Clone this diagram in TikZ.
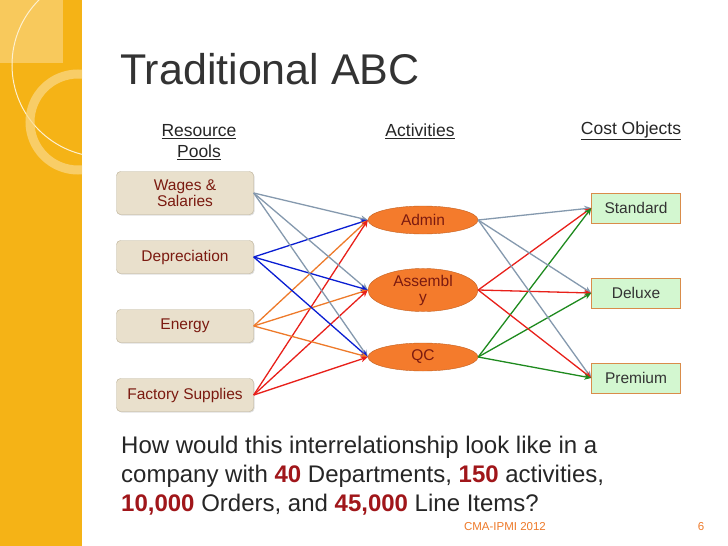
\documentclass[tikz,border=0pt]{standalone}
\usepackage{fontspec}
\setmainfont{Liberation Sans}
\usetikzlibrary{shapes.geometric,arrows.meta,shadows}
\definecolor{barc}{HTML}{F5B316}
\definecolor{boxc}{HTML}{E9E0CC}
\definecolor{boxd}{HTML}{BBB096}
\definecolor{txtr}{HTML}{7B1A10}
\definecolor{ell}{HTML}{F47B2C}
\definecolor{grn}{HTML}{D3F7D0}
\definecolor{grnd}{HTML}{D98C4A}
\definecolor{ga}{HTML}{8599AE}
\definecolor{bl}{HTML}{0A1ED2}
\definecolor{orc}{HTML}{EE7A2A}
\definecolor{rd}{HTML}{E8201A}
\definecolor{gn}{HTML}{1E8A1E}
\definecolor{numc}{HTML}{A0161A}
\begin{document}
\begin{tikzpicture}[x=1pt,y=-1pt,
 res/.style={draw=boxd,fill=boxc,rounded corners=4pt,minimum width=137pt,text=txtr,font=\fontsize{15.5}{16}\selectfont,align=center,inner sep=1pt,drop shadow={opacity=0.25,shadow xshift=1pt,shadow yshift=-1pt}},
 act/.style={ellipse,fill=ell,draw=ell!80!black,minimum width=110pt,text=txtr,font=\fontsize{15.5}{16}\selectfont,align=center,inner sep=0pt},
 cost/.style={draw=grnd,fill=grn,minimum width=89pt,minimum height=30pt,text=black!80,font=\fontsize{15.5}{16}\selectfont},
 hdr/.style={font=\fontsize{17.5}{21}\selectfont,align=center,text=black!85},
 ar/.style={-{Stealth[length=7pt,width=6pt]},line width=1.3pt}]
\useasboundingbox (0,0) rectangle (728,546);
\fill[white] (0,0) rectangle (728,546);
\fill[barc] (0,0) rectangle (82,546);
\begin{scope}
\clip (0,0) rectangle (82,546);
\fill[white,opacity=0.3] (0,0) rectangle (63,63);
\draw[white!80!barc,line width=1pt] (104,65) circle (92);
\draw[barc!50!white,opacity=0.7,line width=9pt] (78,122) circle (48);
\end{scope}
\node[anchor=base west,font=\fontsize{43}{46}\selectfont,text=black!80,inner sep=0] (title) at (120,84) {Traditional ABC};
\node[hdr] (h1) at (199,142) {\underline{Resource}\\\underline{Pools}};
\node[hdr] (h2) at (420,131) {\underline{Activities}};
\node[hdr] (h3) at (631,131) {\underline{Cost Objects}};
\node[res,minimum height=43pt] (w) at (185,193) {Wages \&\\Salaries};
\node[res,minimum height=33pt] (d) at (185,257) {Depreciation};
\node[res,minimum height=33pt] (e) at (185,326) {Energy};
\node[res,minimum height=33pt] (f) at (185,395) {Factory Supplies};
\node[act,minimum height=28pt] (a) at (423,220) {Admin};
\node[act,minimum height=40pt] (b) at (423,290) {Assembl\\y};
\node[act,minimum height=28pt] (q) at (423,357) {QC};
\node[cost] (s) at (636,208) {Standard};
\node[cost] (x) at (636,293) {Deluxe};
\node[cost] (p) at (636,378) {Premium};
\foreach \t in {a,b,q}{
 \draw[ar,ga] (w.east) -- (\t.west);
 \draw[ar,bl] (d.east) -- (\t.west);
 \draw[ar,orc] (e.east) -- (\t.west);
 \draw[ar,rd] (f.east) -- (\t.west);}
\foreach \t in {s,x,p}{
 \draw[ar,ga] (a.east) -- (\t.west);
 \draw[ar,rd] (b.east) -- (\t.west);
 \draw[ar,gn] (q.east) -- (\t.west);}
\node[anchor=north west,align=left,font=\fontsize{24}{29}\selectfont,text=black!85,inner sep=0] (bt) at (121,436) {How would this interrelationship look like in a\\company with \textbf{\color{numc}40} Departments, \textbf{\color{numc}150} activities,\\\textbf{\color{numc}10,000} Orders, and \textbf{\color{numc}45,000} Line Items?};
\node[font=\fontsize{11.5}{12}\selectfont,text=orc] (ft) at (505,527) {CMA-IPMI 2012};
\node[font=\fontsize{11.5}{12}\selectfont,text=orc] (pg) at (701,527) {6};
\end{tikzpicture}
\end{document}
